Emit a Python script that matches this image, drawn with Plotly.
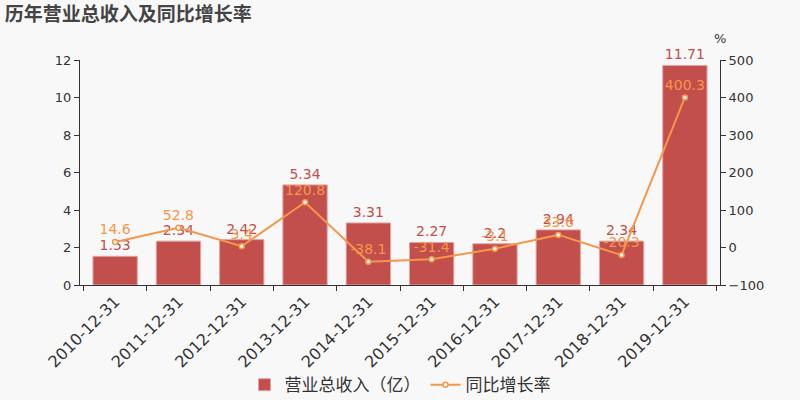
import plotly.graph_objects as go

categories = ["2010-12-31", "2011-12-31", "2012-12-31", "2013-12-31", "2014-12-31",
              "2015-12-31", "2016-12-31", "2017-12-31", "2018-12-31", "2019-12-31"]
revenue = [1.53, 2.34, 2.42, 5.34, 3.31, 2.27, 2.2, 2.94, 2.34, 11.71]
growth = [14.6, 52.8, 3.4, 120.8, -38.1, -31.4, -3.1, 33.6, -20.3, 400.3]
title_text = "历年营业总收入及同比增长率"

bar_color = "#c24f4b"
line_color = "#f5974a"
font_family = "DejaVu Sans, Noto Sans CJK SC, sans-serif"
cjk_family = "Noto Sans CJK SC, sans-serif"

fig = go.Figure()
fig.add_trace(go.Bar(
    x=categories, y=revenue, name="营业总收入（亿）",
    marker=dict(color=bar_color, line=dict(color="#e3a4a2", width=1)),
    width=0.7,
    text=[f"{v:g}" for v in revenue], textposition="outside",
    textfont=dict(color=bar_color, size=14, family=font_family),
    cliponaxis=False,
))
fig.add_trace(go.Scatter(
    x=categories, y=growth, name="同比增长率", yaxis="y2",
    mode="lines+markers+text",
    line=dict(color=line_color, width=2),
    marker=dict(color="white", size=5, line=dict(color=line_color, width=1.5)),
    text=[f"{v:g}" for v in growth], textposition="top center",
    textfont=dict(color=line_color, size=14, family=font_family),
    cliponaxis=False,
))

fig.update_layout(
    width=800, height=400,
    margin=dict(l=80, r=80, t=60, b=115, autoexpand=False),
    paper_bgcolor="#f8f8f8", plot_bgcolor="#f8f8f8",
    font=dict(family=font_family, color="#333333"),
    title=dict(text=f"<b>{title_text}</b>", x=0.006, xanchor="left",
               y=0.963, yanchor="middle",
               font=dict(size=19, color="#444444", family=cjk_family)),
    bargap=0.3,
    showlegend=True,
    legend=dict(orientation="h", x=0.5, xanchor="center", y=-0.445, yanchor="middle",
                font=dict(size=17, color="#333333", family=cjk_family),
                bgcolor="rgba(0,0,0,0)"),
    xaxis=dict(type="category", tickangle=-45, tickfont=dict(size=16, color="#333333"),
               showline=True, linecolor="#333333", linewidth=1, ticks="outside",
               tickson="boundaries",
               ticklen=5, tickcolor="#333333", showgrid=False, automargin=False),
    yaxis=dict(range=[0, 12], dtick=2, showline=True, linecolor="#333333", linewidth=1,
               ticks="outside", ticklen=5, tickcolor="#333333", showgrid=False,
               zeroline=False, tickfont=dict(size=13, color="#333333"), automargin=False),
    yaxis2=dict(range=[-100, 500], dtick=100, overlaying="y", side="right",
                showline=True, linecolor="#333333", linewidth=1, ticks="outside",
                ticklen=5, tickcolor="#333333", showgrid=False, zeroline=False,
                tickfont=dict(size=13, color="#333333"), automargin=False),
    annotations=[dict(text="%", xref="paper", yref="paper", x=1.0, y=1.095,
                      xanchor="center", yanchor="middle", showarrow=False,
                      font=dict(size=13, color="#333333"))],
)

fig.write_html("out.html")
